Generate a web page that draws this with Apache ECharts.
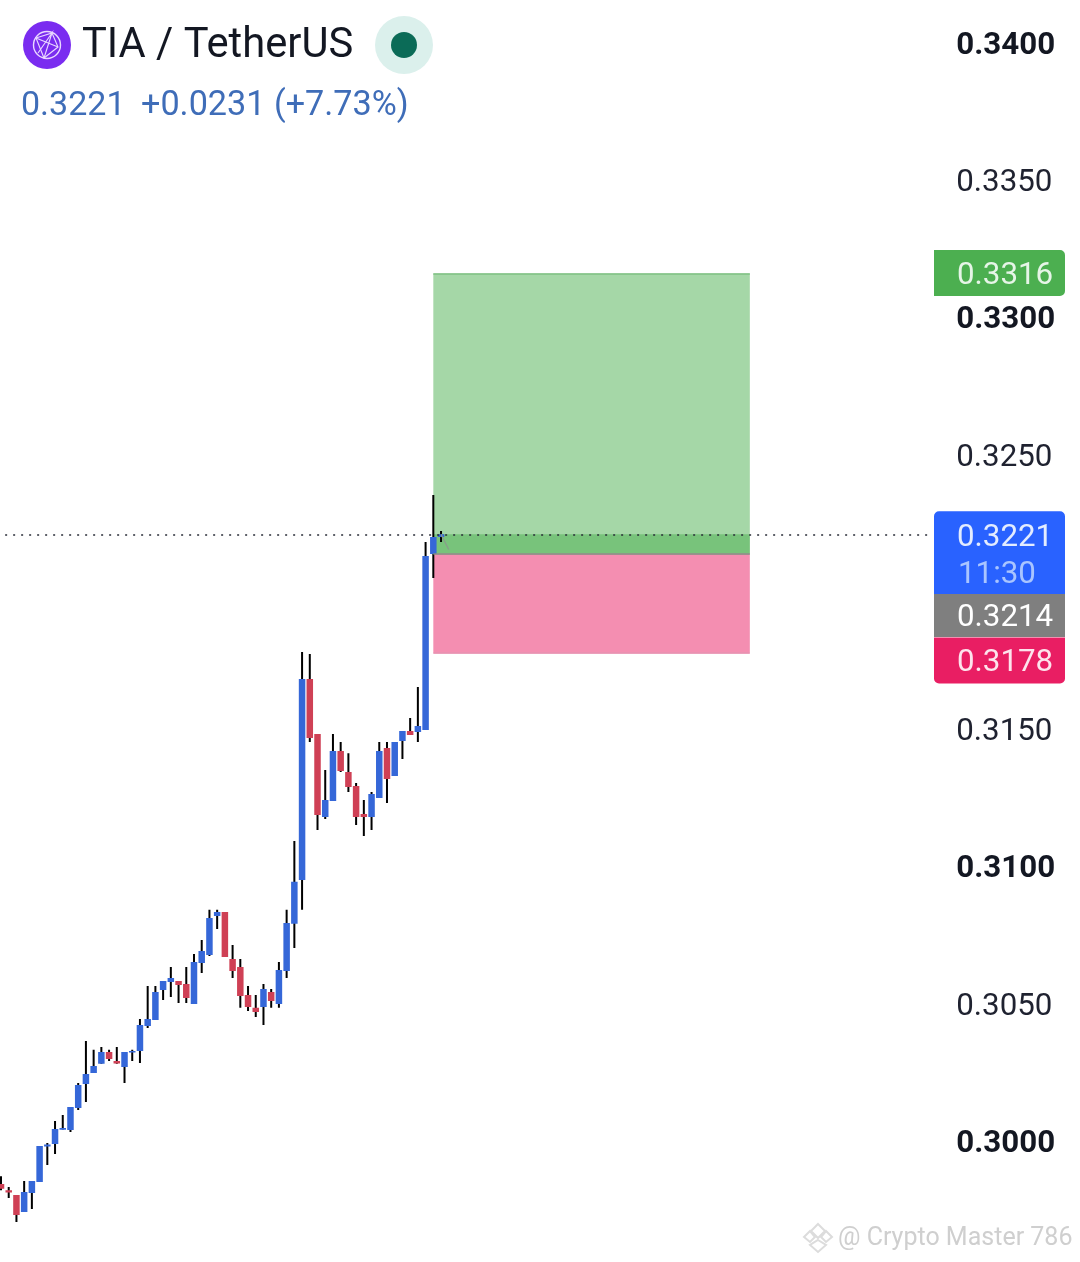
<!DOCTYPE html>
<html><head><meta charset="utf-8">
<style>html,body{margin:0;padding:0;background:#fff;overflow:hidden}#c{width:1080px;height:1262px}</style>
<script src="https://cdn.jsdelivr.net/npm/echarts@6/dist/echarts.min.js"></script>
</head><body><div id="c"></div>
<script>
const opens=[.29843,.29821,.29803,.29741,.29811,.29851,.2998,.29989,.30042,.3004,.3012,.30208,.30248,.30281,.30324,.30291,.3027,.30322,.30328,.30419,.30441,.3055,.30579,.30583,.30572,.30499,.30648,.30678,.3082,.30834,.30663,.30634,.30532,.30485,.30488,.30543,.30499,.30619,.30791,.30951,.31683,.31483,.3118,.31239,.31421,.31344,.31293,.31191,.3118,.3125,.31432,.3133,.31457,.31494,.3149,.31497,.32138,.322];
const closes=[.29826,.29812,.2973,.29814,.29854,.29982,.29987,.30044,.30047,.30124,.30204,.30244,.30273,.30324,.30299,.30282,.30324,.30328,.30423,.30444,.30543,.30583,.30594,.30568,.30521,.30652,.30692,.30812,.30834,.3067,.30619,.30528,.30488,.3047,.30554,.3051,.30623,.30794,.30944,.31683,.31468,.31188,.31242,.31421,.31348,.3129,.3118,.3118,.31264,.31421,.31319,.31454,.31494,.31479,.31512,.32131,.322,.3221];
const lows=[.29821,.29792,.29705,.29741,.29752,.29851,.29913,.29953,.30042,.30033,.30113,.30142,.30248,.30281,.30291,.30281,.30211,.30291,.30284,.30412,.30441,.30514,.30525,.30503,.30503,.30499,.30612,.30674,.30772,.3067,.30594,.30485,.30474,.30452,.30423,.30485,.30485,.30594,.30703,.30842,.31454,.31133,.31173,.31239,.31344,.31271,.31151,.31111,.31133,.3125,.31231,.3133,.31392,.31479,.31454,.31497,.32051,.32182];
const highs=[.29872,.29832,.29803,.29854,.29854,.29982,.29993,.30073,.30095,.30124,.30211,.30364,.30332,.30342,.30332,.30342,.30324,.30332,.30444,.30565,.30565,.30583,.30634,.30583,.30634,.30681,.30732,.30842,.30842,.30834,.30714,.30663,.30565,.30532,.30572,.30554,.30652,.30842,.31093,.31781,.31774,.31483,.31352,.31483,.31454,.31413,.31304,.31242,.31271,.31454,.31454,.31454,.31494,.31541,.31654,.32182,.32353,.32222];
const hiddenTicks=['0.2950','0.3200'];
const boldTicks=['0.3400','0.3300','0.3100','0.3000'];
const priceLast=0.3221, priceEntry=0.3214, priceTarget=0.3316, priceStop=0.3178;
const tagPrices=[priceTarget,priceLast,priceEntry,priceStop];
const tagTexts=['0.3316','0.3221','0.3214','0.3178'];
const countdown='11:30';
const boxFrom=56, boxTo=97, futureBars=121;

const FONT='Roboto';
const UP='#3567d8', DOWN='#cf4055';
const cats=Array.from({length:futureBars},(_,i)=>String(i));
const candles=opens.map((o,i)=>[i,o,closes[i],lows[i],highs[i]]);
// stacking of the price tags next to the scale (tag top relative to the tag's price)
const tagStyle=[
 {dy:-23.6,h:46,fill:'#4caf50',text:'#e6f5e7'},
 {dy:-23,h:83,fill:'#2962ff',text:'#e3ecff'},
 {dy:40.4,h:43,fill:'#7f7f7f',text:'#ffffff'},
 {dy:-15,h:46,fill:'#e91e63',text:'#fde3ec'}
];

const chart=echarts.init(document.getElementById('c'),null,{renderer:'canvas'});
chart.setOption({
 animation:false,
 backgroundColor:'#ffffff',
 grid:{left:-2.86,top:43,width:934.1,height:1235.25,containLabel:false,outerBoundsMode:'none'},
 xAxis:{type:'category',data:cats,show:false,boundaryGap:true},
 yAxis:{type:'value',position:'right',min:0.295,max:0.34,interval:0.005,scale:true,
  axisLine:{show:false},axisTick:{show:false},splitLine:{show:false},
  axisLabel:{margin:25,align:'left',
   formatter:v=>{const s=v.toFixed(4);if(hiddenTicks.includes(s))return '';return boldTicks.includes(s)?'{b|'+s+'}':'{n|'+s+'}';},
   rich:{b:{fontFamily:FONT,fontSize:31.3,fontWeight:'bold',color:'#131722',padding:[6,0,0,0]},n:{fontFamily:FONT,fontSize:31.3,color:'#1f2230',padding:[6,0,0,0]}}}},
 series:[
  {type:'custom',name:'TIAUSDT',data:candles,z:3,clip:true,
   encode:{x:0,y:[1,2,3,4]},
   renderItem(p,api){
    const i=api.value(0),o=api.value(1),c=api.value(2),l=api.value(3),h=api.value(4);
    const xc=api.coord([i,o])[0],bw=6.5;
    const yo=api.coord([i,o])[1],yc=api.coord([i,c])[1],yl=api.coord([i,l])[1],yh=api.coord([i,h])[1];
    const top=Math.min(yo,yc),ht=Math.max(Math.abs(yo-yc),1.6);
    return {type:'group',children:[
     {type:'rect',shape:{x:xc-1,y:yh,width:2,height:yl-yh},style:{fill:'#000'}},
     {type:'rect',shape:{x:xc-bw/2,y:top,width:bw,height:ht},style:{fill:c>=o?UP:DOWN}}
    ]};
   },
   markArea:{silent:true,z:1,data:[
    [{xAxis:boxFrom,yAxis:priceEntry,itemStyle:{color:'rgba(76,175,80,0.5)'}},{xAxis:boxTo,yAxis:priceTarget}],
    [{xAxis:boxFrom,yAxis:priceStop,itemStyle:{color:'rgba(233,30,99,0.5)'}},{xAxis:boxTo,yAxis:priceEntry}],
    [{xAxis:boxFrom,yAxis:priceEntry,itemStyle:{color:'rgba(76,175,80,0.5)'}},{xAxis:boxTo,yAxis:priceLast}]
   ]},
   markLine:{silent:true,symbol:'none',animation:false,z:4,precision:5,label:{show:false},data:[
    {yAxis:priceLast,lineStyle:{color:'#2a2e39',type:[2,6],width:1.5}},
    [{xAxis:boxFrom,yAxis:priceTarget,lineStyle:{color:'#7fc183',type:'solid',width:1.5}},{xAxis:boxTo,yAxis:priceTarget}],
    [{xAxis:boxFrom,yAxis:priceStop,lineStyle:{color:'#e57fa4',type:'solid',width:1.5}},{xAxis:boxTo,yAxis:priceStop}],
    [{xAxis:boxFrom,yAxis:priceEntry,lineStyle:{color:'#7f8f80',type:'solid',width:1.5}},{xAxis:boxTo,yAxis:priceEntry}],
    [{xAxis:57,yAxis:priceLast,lineStyle:{color:'#8a9a8c',type:'solid',width:1.2}},{xAxis:58,yAxis:0.32155}]
   ]}
  },
  {type:'custom',name:'tags',z:6,clip:false,silent:true,
   data:tagPrices.map((p,i)=>[0,p,i]),encode:{x:0,y:1},
   renderItem(p,api){
    const i=api.value(2),s=tagStyle[i],y=api.coord([0,api.value(1)])[1]+s.dy,x=934,w=131;
    const kids=[{type:'rect',shape:{x,y,width:w,height:s.h,r:i==1?[5,5,0,0]:i==3?[0,0,5,5]:i==0?[0,5,5,0]:0},style:{fill:s.fill}},
     {type:'text',style:{x:957,y:y+(i==1?27:s.h/2+3),text:tagTexts[i],fill:s.text,font:'31.3px '+FONT,textAlign:'left',textVerticalAlign:'middle'}}];
    if(i==1)kids.push({type:'text',style:{x:958,y:y+64,text:countdown,fill:'#a9c5ff',font:'31.3px '+FONT,textAlign:'left',textVerticalAlign:'middle'}});
    return {type:'group',children:kids};
   }}
 ],
 graphic:[
  {type:'circle',shape:{cx:47,cy:45,r:24},style:{fill:'#7a2cf0'},z:10},
  {type:'circle',shape:{cx:47,cy:45,r:13.5},style:{fill:'none',stroke:'#e9d8ff',lineWidth:1.4},z:11},
  {type:'polyline',shape:{points:[[36,38],[52,33],[58,47],[44,58],[36,38],[58,47]]},style:{fill:'none',stroke:'#e9d8ff',lineWidth:1.1},z:11},
  {type:'polyline',shape:{points:[[38,53],[52,33],[44,58]]},style:{fill:'none',stroke:'#e9d8ff',lineWidth:1.1},z:11},
  {type:'text',style:{x:82,y:47,text:'TIA / TetherUS',fill:'#131722',font:'41.7px '+FONT,textVerticalAlign:'middle'},z:10},
  {type:'circle',shape:{cx:404,cy:45,r:29},style:{fill:'#dbf0ec'},z:10},
  {type:'circle',shape:{cx:404,cy:45,r:13},style:{fill:'#0b6b57'},z:11},
  {type:'text',style:{x:21,y:106,text:'0.3221',fill:'#3f6db8',font:'34px '+FONT,textVerticalAlign:'middle'},z:10},
  {type:'text',style:{x:141,y:106,text:'+0.0231 (+7.73%)',fill:'#3f6db8',font:'34.2px '+FONT,textVerticalAlign:'middle'},z:10},
  {type:'text',style:{x:838,y:1239,text:'@ Crypto Master 786',fill:'#cfcfcf',font:'25px '+FONT,textVerticalAlign:'middle'},z:10},
  {type:'polygon',shape:{points:[[818,1224],[825,1231],[818,1238],[811,1231]]},style:{fill:'none',stroke:'#dcdcdc',lineWidth:2},z:10},
  {type:'polygon',shape:{points:[[810,1231],[815,1237],[810,1242],[804,1237]]},style:{fill:'none',stroke:'#dcdcdc',lineWidth:2},z:10},
  {type:'polygon',shape:{points:[[826,1231],[832,1237],[826,1242],[821,1237]]},style:{fill:'none',stroke:'#dcdcdc',lineWidth:2},z:10},
  {type:'polygon',shape:{points:[[818,1240],[826,1245],[818,1252],[810,1245]]},style:{fill:'none',stroke:'#dcdcdc',lineWidth:2},z:10}
 ]
});
</script></body></html>
